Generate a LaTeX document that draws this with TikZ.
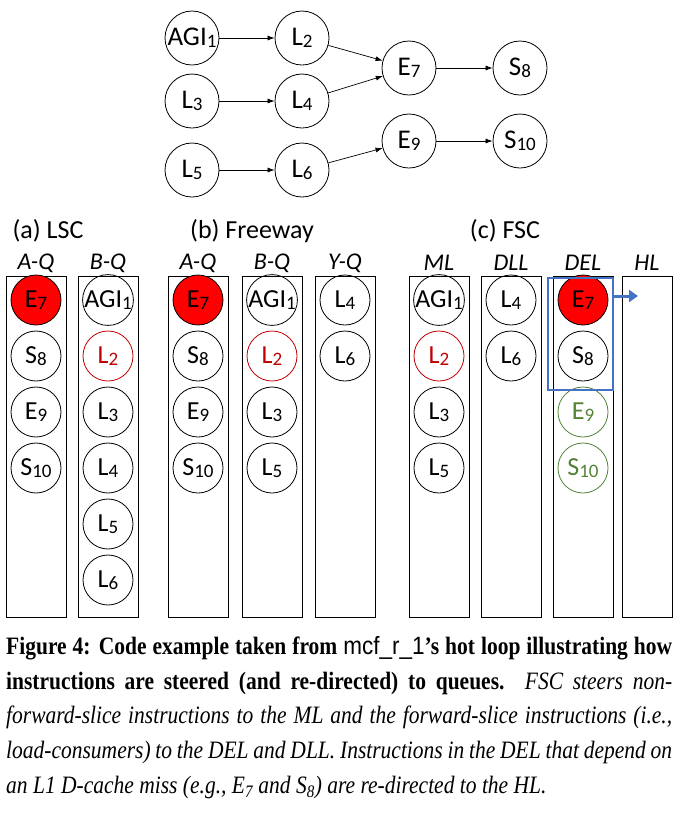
\documentclass[tikz,border=0pt]{standalone}
\usepackage{fontspec}
\setmainfont{Liberation Serif}[FakeStretch=0.86]
\newfontfamily\calfont{Carlito}
\newfontfamily\monofont{Liberation Sans}[FakeStretch=0.9]
\usetikzlibrary{arrows.meta}
\newcommand{\ssb}[1]{\raisebox{-0.15ex}{\fontsize{19}{19}\selectfont #1}}
\definecolor{myred}{RGB}{255,0,0}
\definecolor{dred}{RGB}{192,0,0}
\definecolor{mgreen}{RGB}{84,130,53}
\definecolor{mblue}{RGB}{68,114,196}
\begin{document}
\begin{tikzpicture}[x=1pt,y=-1pt,
  c/.style={circle,draw,line width=0.8pt,minimum size=54pt,inner sep=0pt,font=\calfont\fontsize{27}{27}\selectfont},
  q/.style={circle,draw,line width=0.8pt,minimum size=50pt,inner sep=0pt,font=\calfont\fontsize{26}{26}\selectfont},
  lane/.style={draw,line width=0.8pt},
  hd/.style={font=\calfont\itshape\fontsize{24}{24}\selectfont},
  ttl/.style={font=\calfont\fontsize{26}{26}\selectfont},
  ar/.style={-{Latex[length=7pt,width=5pt]},line width=0.7pt}]
\useasboundingbox (0,0) rectangle (678,823);
% top graph
\node[c] (agi) at (192,38) {AGI\ssb{1}};
\node[c] (l2) at (302,38) {L\ssb{2}};
\node[c] (l3) at (192,101) {L\ssb{3}};
\node[c] (l4) at (302,101) {L\ssb{4}};
\node[c] (l5) at (192,170) {L\ssb{5}};
\node[c] (l6) at (302,170) {L\ssb{6}};
\node[c] (e7) at (409,68) {E\ssb{7}};
\node[c] (s8) at (520,68) {S\ssb{8}};
\node[c] (e9) at (409,141) {E\ssb{9}};
\node[c] (s10) at (520,141) {S\ssb{10}};
\draw[ar] (agi)--(l2); \draw[ar] (l3)--(l4); \draw[ar] (l5)--(l6);
\draw[ar] (l2)--(e7); \draw[ar] (l4)--(e7); \draw[ar] (l6)--(e9);
\draw[ar] (e7)--(s8); \draw[ar] (e9)--(s10);
% titles
\node[ttl] (ta) at (48,231) {(a) LSC};
\node[ttl] (tb) at (252,231) {(b) Freeway};
\node[ttl] (tc) at (505,231) {(c) FSC};
% lanes
\foreach \n/\x/\w/\lab in {a1/6/60/A-Q, a2/78/60/B-Q, b1/168/60/A-Q, b2/242/60/B-Q, b3/315/60/Y-Q, c1/409/60/ML, c2/481/60/DLL, c3/553/60/DEL, c4/622/50/HL}{
  \draw[lane] (\x,276) rectangle ++(\w,341);
  \node[hd] (h\n) at (\x+\w/2,263) {\lab};
}
% LSC
\node[q,fill=myred] (a1e7) at (36,300) {E\ssb{7}};
\node[q] (a1s8) at (36,356) {S\ssb{8}};
\node[q] (a1e9) at (36,412) {E\ssb{9}};
\node[q] (a1s10) at (36,468) {S\ssb{10}};
\node[q] (a2agi) at (108,300) {AGI\ssb{1}};
\node[q,draw=dred,text=dred] (a2l2) at (108,356) {L\ssb{2}};
\node[q] (a2l3) at (108,412) {L\ssb{3}};
\node[q] (a2l4) at (108,468) {L\ssb{4}};
\node[q] (a2l5) at (108,524) {L\ssb{5}};
\node[q] (a2l6) at (108,580) {L\ssb{6}};
% Freeway
\node[q,fill=myred] (b1e7) at (198,300) {E\ssb{7}};
\node[q] (b1s8) at (198,356) {S\ssb{8}};
\node[q] (b1e9) at (198,412) {E\ssb{9}};
\node[q] (b1s10) at (198,468) {S\ssb{10}};
\node[q] (b2agi) at (272,300) {AGI\ssb{1}};
\node[q,draw=dred,text=dred] (b2l2) at (272,356) {L\ssb{2}};
\node[q] (b2l3) at (272,412) {L\ssb{3}};
\node[q] (b2l5) at (272,468) {L\ssb{5}};
\node[q] (b3l4) at (345,300) {L\ssb{4}};
\node[q] (b3l6) at (345,356) {L\ssb{6}};
% FSC
\node[q] (c1agi) at (439,300) {AGI\ssb{1}};
\node[q,draw=dred,text=dred] (c1l2) at (439,356) {L\ssb{2}};
\node[q] (c1l3) at (439,412) {L\ssb{3}};
\node[q] (c1l5) at (439,468) {L\ssb{5}};
\node[q] (c2l4) at (511,300) {L\ssb{4}};
\node[q] (c2l6) at (511,356) {L\ssb{6}};
\node[q,fill=myred] (c3e7) at (583,300) {E\ssb{7}};
\node[q] (c3s8) at (583,356) {S\ssb{8}};
\node[q,draw=mgreen,text=mgreen] (c3e9) at (583,412) {E\ssb{9}};
\node[q,draw=mgreen,text=mgreen] (c3s10) at (583,468) {S\ssb{10}};
\draw[mblue,line width=2.2pt] (548,278) rectangle (613,390);
\coordinate (bx) at (613,296);
\coordinate (bt) at (638,296);
\draw[mblue,line width=3pt,-{Triangle[length=9pt,width=12pt]}] (bx)--(bt);
% caption
\node[anchor=north west,inner sep=0pt,text width=666pt,align=justify,font=\fontsize{25}{34.8}\selectfont] (cap) at (6,636)
{\textbf{Figure 4: Code example taken from} {\monofont mcf\_r\_1}\textbf{'s hot loop il\-lustrating how instructions are steered (and re-directed) to queues.} \textit{FSC steers non-forward-slice instructions to the ML and the forward-slice instructions (i.e., load-consumers) to the DEL and DLL. Instructions in the DEL that depend on an L1 D-cache miss (e.g., E\textsubscript{7} and S\textsubscript{8}) are re-directed to the HL.}};
\end{tikzpicture}
\end{document}
